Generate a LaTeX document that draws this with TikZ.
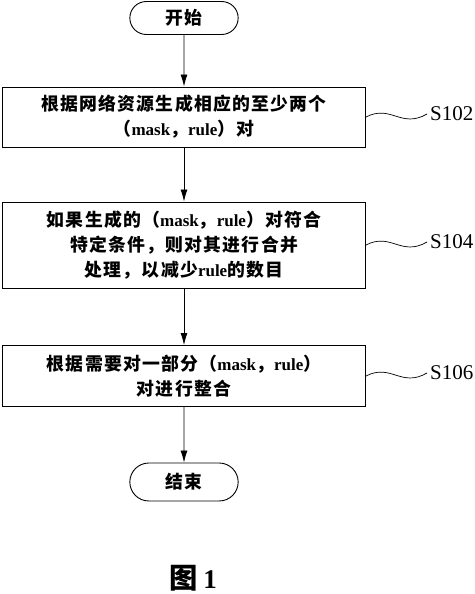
\documentclass[tikz,border=0pt]{standalone}
\usepackage{fontspec}
\setmainfont{Liberation Serif}
\newfontfamily\cjk[Scale=1.05,LetterSpace=7]{Noto Sans CJK SC}
\usetikzlibrary{positioning,arrows.meta,shapes.misc}

\begin{document}
\begin{tikzpicture}[x=1pt,y=-1pt,node distance=100pt,>={Latex[length=12pt,width=7pt]}]
  \useasboundingbox (0,0) rectangle (474,594);
  \tikzset{
    terminal/.style={rounded rectangle,draw=black,line width=.9pt,minimum width=115pt,minimum height=33pt,
      font=\fontsize{17}{25}\selectfont\bfseries},
    process/.style={rectangle,draw=black,line width=1pt,minimum width=363pt,align=center,
      font=\fontsize{17}{25}\selectfont\bfseries},
    % edge styles
    pre/.style={<-,line width=.8pt},
    wave/.style={line width=.7pt},
    %label styles
    stepLabel/.style={font=\fontsize{21}{24}\selectfont,inner sep=3pt},
    caption/.style={font=\fontsize{27}{30}\selectfont\bfseries}
  }

  %% main flow
  \node [terminal] (start) at (184,18) {\cjk 开始};

  \node [process, minimum height=60pt] (s102) [below of=start, node distance=99pt]
  {{\cjk 根据网络资源生成相应的至少两个}\\{\cjk （}mask{\cjk ，}rule{\cjk ）对}}
  edge [pre] (start);

  \node [process, minimum height=86pt] (s104) [below of=s102, node distance=128pt]
  {{\cjk 如果生成的（}mask{\cjk ，}rule{\cjk ）对符合}\\{\cjk 特定条件，则对其进行合并}\\{\cjk 处理，以减少}rule{\cjk 的数目}}
  edge [pre] (s102);

  \node [process, minimum height=61pt] (s106) [below of=s104, node distance=131pt]
  {{\cjk 根据需要对一部分（}mask{\cjk ，}rule{\cjk ）}\\{\cjk 对进行整合}}
  edge [pre] (s104);

  \node [terminal, minimum height=38pt] (finish) [below of=s106, node distance=106pt] {\cjk 结束}
  edge [pre] (s106);

  %% step labels
  \node [stepLabel, right=61pt of s102, yshift=3pt] (l102) {S102};
  \draw [wave] (s102.east) .. controls +(25,-13) and +(-26,15) .. (l102.west);
  \node [stepLabel, right=61pt of s104, yshift=3pt] (l104) {S104};
  \draw [wave] (s104.east) .. controls +(25,-13) and +(-26,15) .. (l104.west);
  \node [stepLabel, right=61pt of s106, yshift=3pt] (l106) {S106};
  \draw [wave] (s106.east) .. controls +(25,-13) and +(-26,15) .. (l106.west);

  \node [caption, xshift=9pt, inner sep=1pt] (fig) [below of=finish, node distance=96pt] {{\cjk 图}\hspace{6pt}1};

\end{tikzpicture}
\end{document}
